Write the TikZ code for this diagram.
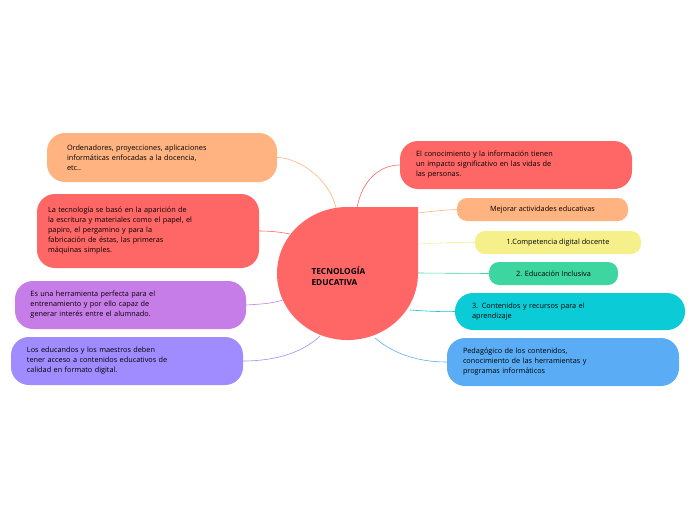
\documentclass[tikz,border=0pt]{standalone}
\usepackage{fontspec}
\setmainfont{Open Sans}
\definecolor{cor}{HTML}{FFB380}
\definecolor{cred}{HTML}{FF6666}
\definecolor{cpur}{HTML}{C77DE8}
\definecolor{clav}{HTML}{A08CFF}
\definecolor{cyel}{HTML}{F5F08A}
\definecolor{cgrn}{HTML}{3DD6A0}
\definecolor{ccya}{HTML}{0ACBD6}
\definecolor{cblu}{HTML}{5AADF5}
\begin{document}
\begin{tikzpicture}[x=1pt,y=-1pt,
  box/.style={fill=#1,draw=none,rounded corners=18pt,inner sep=0pt,align=left,font=\fontsize{7.3}{10}\selectfont},
  conn/.style={draw=#1,line width=0.6pt}]
\useasboundingbox (0,0) rectangle (696,520);
\fill[cred] (418,207) -- (347.5,207) arc[start angle=270,end angle=0,x radius=70.5,y radius=66.5] -- cycle;
\node[font=\bfseries\fontsize{8.3}{11}\selectfont,align=left,anchor=west] (c) at (308,276) {TECNOLOGÍA\\EDUCATIVA};
\coordinate (cl1) at (336,208); \coordinate (cl2) at (290,234); \coordinate (cl3) at (283,300); \coordinate (cl4) at (320,336);
\coordinate (cr1) at (357,208); \coordinate (cr2) at (418,213); \coordinate (cr3) at (418,244); \coordinate (cr4) at (418,273);
\coordinate (cr5) at (410,310); \coordinate (cr6) at (375,338);
\node[box=cor,minimum width=230pt,minimum height=49pt,text width=190pt] (l1) at (162,157.5) {Ordenadores, proyecciones, aplicaciones\\informáticas enfocadas a la docencia,\\etc..};
\node[box=cred,minimum width=222pt,minimum height=74pt,text width=200pt] (l2) at (148,231) {La tecnología se basó en la aparición de\\la escritura y materiales como el papel, el\\papiro, el pergamino y para la\\fabricación de éstas, las primeras\\máquinas simples.};
\node[box=cpur,minimum width=231pt,minimum height=48pt,text width=200pt] (l3) at (130.5,305) {Es una herramienta perfecta para el\\entrenamiento y por ello capaz de\\generar interés entre el alumnado.};
\node[box=clav,minimum width=232pt,minimum height=48pt,text width=200pt] (l4) at (127,361) {Los educandos y los maestros deben\\tener acceso a contenidos educativos de\\calidad en formato digital.};
\node[box=cred,minimum width=232pt,minimum height=48pt,text width=200pt] (r1) at (516,165) {El conocimiento y la información tienen\\un impacto significativo en las vidas de\\las personas.};
\node[box=cor,minimum width=171pt,minimum height=23pt,rounded corners=10pt,align=center] (r2) at (542.5,209.5) {Mejorar actividades educativas};
\node[box=cyel,minimum width=166pt,minimum height=23pt,rounded corners=10pt,align=center] (r3) at (558,242.5) {1.Competencia digital docente};
\node[box=cgrn,minimum width=129pt,minimum height=23pt,rounded corners=10pt,align=center] (r4) at (553.5,273.5) {2. Educación Inclusiva};
\node[box=ccya,minimum width=230pt,minimum height=37pt,text width=196pt] (r5) at (570,311.5) {3. Contenidos y recursos para el\\aprendizaje};
\node[box=cblu,minimum width=232pt,minimum height=48pt,text width=200pt] (r6) at (563,362) {Pedagógico de los contenidos,\\conocimiento de las herramientas y\\programas informáticos};
\draw[conn=cor] (cl1) .. controls (330,180) and (300,158) .. (l1.east);
\draw[conn=cred] (cl2) .. controls (280,232) and (270,231) .. (l2.east);
\draw[conn=cpur] (cl3) .. controls (270,304) and (260,304) .. (l3.east);
\draw[conn=clav] (cl4) .. controls (300,355) and (270,361) .. (l4.east);
\draw[conn=cred] (cr1) .. controls (362,180) and (380,165) .. (r1.west);
\draw[conn=cor] (cr2) .. controls (435,211) and (445,210) .. (r2.west);
\draw[conn=cyel] (cr3) .. controls (440,243) and (460,242) .. (r3.west);
\draw[conn=cgrn] (cr4) -- (r4.west);
\draw[conn=ccya] (cr5) .. controls (425,311) and (440,312) .. (r5.west);
\draw[conn=cblu] (cr6) .. controls (395,355) and (420,362) .. (r6.west);
\end{tikzpicture}
\end{document}
